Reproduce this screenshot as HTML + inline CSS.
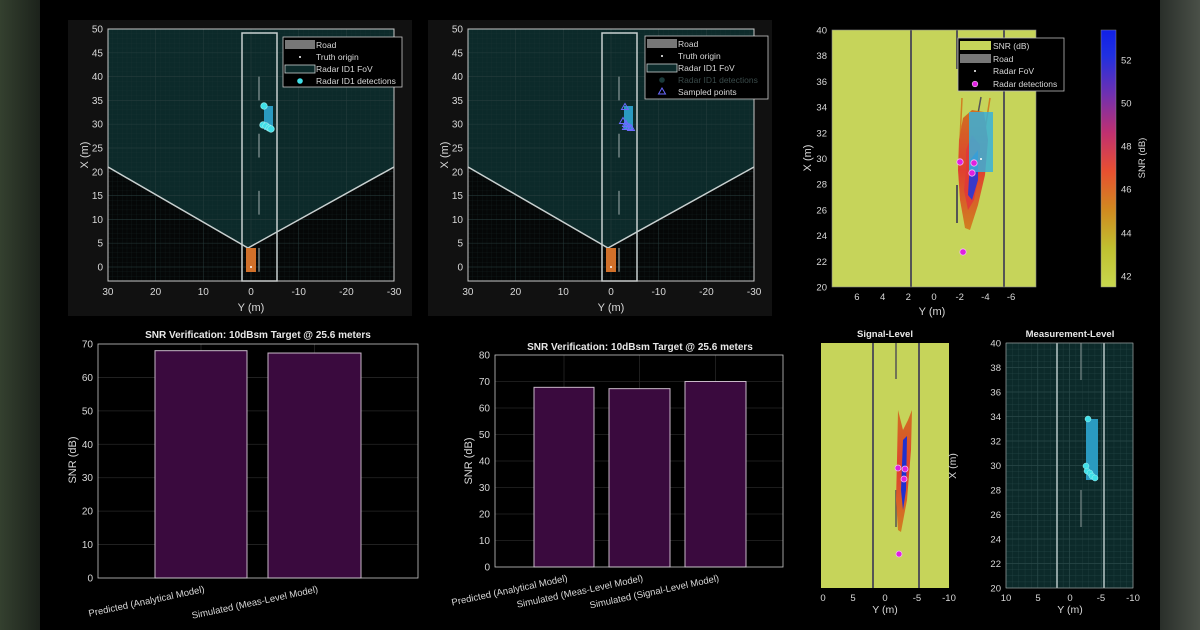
<!DOCTYPE html>
<html><head><meta charset="utf-8">
<style>
html,body{margin:0;padding:0;background:#000;}
svg{display:block;font-family:"Liberation Sans",sans-serif;}
</style></head><body>
<svg id="s" width="1200" height="630" viewBox="0 0 1200 630" xmlns="http://www.w3.org/2000/svg">
<defs>
<linearGradient id="lside" x1="0" x2="1"><stop offset="0" stop-color="#34402f"/><stop offset="1" stop-color="#1c221b"/></linearGradient>
<linearGradient id="rside" x1="0" x2="1"><stop offset="0" stop-color="#2a2f2a"/><stop offset="1" stop-color="#4a5048"/></linearGradient>
<linearGradient id="cbar" x1="0" y1="1" x2="0" y2="0">
<stop offset="0" stop-color="#c8d84e"/><stop offset="0.15" stop-color="#c0c030"/><stop offset="0.3" stop-color="#d08a20"/>
<stop offset="0.45" stop-color="#e85030"/><stop offset="0.6" stop-color="#c03070"/><stop offset="0.75" stop-color="#7030b0"/>
<stop offset="0.9" stop-color="#2030e0"/><stop offset="1" stop-color="#1020e8"/></linearGradient>
<linearGradient id="heat" x1="0" y1="1" x2="0" y2="0"><stop offset="0" stop-color="#d08020"/><stop offset="0.5" stop-color="#e04030"/><stop offset="1" stop-color="#d07020"/></linearGradient>
</defs>
<rect x="0" y="0" width="40" height="630" fill="url(#lside)"/>
<rect x="1160" y="0" width="40" height="630" fill="url(#rside)"/>
<g id="root"></g>
</svg>
<script>
var out=[];
function a(s){out.push(s);}
function txt(x,y,t,sz,anc,extra){a('<text x="'+x+'" y="'+y+'" font-size="'+(sz||10)+'" fill="#d8d8d8" text-anchor="'+(anc||'middle')+'" '+(extra||'')+'>'+t+'</text>');}
function topPanel(dx,legend2){
 a('<g transform="translate('+dx+',0)">');
 a('<rect x="68" y="20" width="344" height="296" fill="#111"/>');
 var L=108,R=394,T=29,B=281;
 a('<rect x="'+L+'" y="'+T+'" width="'+(R-L)+'" height="'+(B-T)+'" fill="#050707"/>');
 a('<polygon points="108,29 394,29 394,167 248,248 108,167" fill="#0c2a2a"/>');
 for(var Y=-30;Y<=30;Y+=1){var px=251-4.77*Y;a('<line x1="'+px+'" y1="'+T+'" x2="'+px+'" y2="'+B+'" stroke="#2a4040" stroke-width="'+(Y%10==0?0.7:0.3)+'" opacity="'+(Y%10==0?0.7:0.4)+'"/>');}
 for(var X=-3;X<=50;X+=1){var py=267-4.76*X;a('<line x1="'+L+'" y1="'+py+'" x2="'+R+'" y2="'+py+'" stroke="#2a4040" stroke-width="'+(X%5==0?0.7:0.3)+'" opacity="'+(X%5==0?0.7:0.4)+'"/>');}
 a('<polyline points="108,167 248,248 394,167" fill="none" stroke="#c8d0d0" stroke-width="1.5"/>');
 a('<rect x="242" y="33" width="35" height="248" fill="none" stroke="#c8d0d0" stroke-width="1.5"/>');
 [[40,35],[28,23],[16,11],[4,-1]].forEach(function(d){a('<line x1="259" y1="'+(267-4.76*d[0])+'" x2="259" y2="'+(267-4.76*d[1])+'" stroke="#8a9a9a" stroke-width="1.2"/>');});
 a('<rect x="246" y="248" width="10" height="24" fill="#d0702a"/><circle cx="251" cy="267" r="1" fill="#fff"/>');
 a('<rect x="264" y="106" width="9" height="24" fill="#2a9ac0"/>');
 if(!legend2){
  [[264,106],[263,125],[266,126],[269,128],[271,129]].forEach(function(p){a('<circle cx="'+p[0]+'" cy="'+p[1]+'" r="3.3" fill="#40e0e8" stroke="#a0f0f0" stroke-width="0.6"/>');});
 } else {
  [[265,107],[263,121],[266,124],[266,127],[269,127],[271,128]].forEach(function(p){a('<polygon points="'+p[0]+','+(p[1]-3.5)+' '+(p[0]-3.5)+','+(p[1]+2.5)+' '+(p[0]+3.5)+','+(p[1]+2.5)+'" fill="none" stroke="#6a6aff" stroke-width="1"/>');});
 }
 a('<rect x="'+L+'" y="'+T+'" width="'+(R-L)+'" height="'+(B-T)+'" fill="none" stroke="#c8c8c8" stroke-width="1"/>');
 for(var X=0;X<=50;X+=5){txt(L-5,267-4.76*X+3.5,X,10,'end');}
 [30,20,10,0,-10,-20,-30].forEach(function(Y){txt(251-4.77*Y,295,Y,10);});
 txt(251,311,'Y (m)',11);
 a('<text x="0" y="0" font-size="11" fill="#d8d8d8" text-anchor="middle" transform="translate(88,155) rotate(-90)">X (m)</text>');
 if(!legend2){
  a('<rect x="283" y="37" width="119" height="50" fill="#000" stroke="#c8c8c8" stroke-width="0.8"/>');
  a('<rect x="285" y="40" width="30" height="9" fill="#777"/>');txt(316,48,'Road',8.5,'start');
  a('<circle cx="300" cy="57" r="1" fill="#fff"/>');txt(316,60,'Truth origin',8.5,'start');
  a('<rect x="285" y="65" width="30" height="8" fill="#0c2a2a" stroke="#c8d0d0" stroke-width="0.8"/>');txt(316,72,'Radar ID1 FoV',8.5,'start');
  a('<circle cx="300" cy="81" r="2.8" fill="#40e0e8"/>');txt(316,84,'Radar ID1 detections',8.5,'start');
 } else {
  a('<rect x="285" y="36" width="123" height="63" fill="#000" stroke="#c8c8c8" stroke-width="0.8"/>');
  a('<rect x="287" y="39" width="30" height="9" fill="#777"/>');txt(318,47,'Road',8.5,'start');
  a('<circle cx="302" cy="56" r="1" fill="#fff"/>');txt(318,59,'Truth origin',8.5,'start');
  a('<rect x="287" y="64" width="30" height="8" fill="#0c2a2a" stroke="#c8d0d0" stroke-width="0.8"/>');txt(318,71,'Radar ID1 FoV',8.5,'start');
  a('<circle cx="302" cy="80" r="2.8" fill="#1a3a3a"/>');a('<text x="318" y="83" font-size="8.5" fill="#3a4a4a">Radar ID1 detections</text>');
  a('<polygon points="302,88 298.5,94 305.5,94" fill="none" stroke="#6a6aff"/>');txt(318,95,'Sampled points',8.5,'start');
 }
 a('</g>');
}
topPanel(0,false);
topPanel(360,true);

(function(){
 var L=832,R=1036,T=30,B=287;
 a('<rect x="'+L+'" y="'+T+'" width="'+(R-L)+'" height="'+(B-T)+'" fill="#c6d45a"/>');
 a('<line x1="911" y1="30" x2="911" y2="287" stroke="#555" stroke-width="2"/><line x1="1004" y1="30" x2="1004" y2="287" stroke="#555" stroke-width="2"/>');
 a('<line x1="957" y1="30" x2="957" y2="69" stroke="#555" stroke-width="2"/><line x1="957" y1="185" x2="957" y2="223" stroke="#555" stroke-width="2"/>');
 a('<line x1="962" y1="98" x2="960" y2="140" stroke="#d08020" stroke-width="1.5"/><line x1="981" y1="97" x2="975" y2="130" stroke="#555" stroke-width="1.5"/><line x1="990" y1="98" x2="985" y2="130" stroke="#d08020" stroke-width="1.5"/>');
 a('<polygon points="963,118 972,110 984,112 988,140 985,175 978,205 970,230 965,228 960,200 958,170 959,140" fill="url(#heat)"/>');
 a('<polygon points="966,150 972,135 980,145 980,170 974,200 968,210 964,190 966,170" fill="#e03838" opacity="0.9"/>');
 a('<polygon points="970,160 978,150 978,180 972,200 968,195" fill="#2838d8" opacity="0.9"/>');
 a('<rect x="969" y="112" width="24" height="60" fill="#3ab0d8" opacity="0.85"/>');
 a('<circle cx="981" cy="159" r="1" fill="#fff"/>');
 [[960,162],[974,163],[972,173],[963,252]].forEach(function(p){a('<circle cx="'+p[0]+'" cy="'+p[1]+'" r="3.2" fill="#e020e0" stroke="#f0c0f0" stroke-width="0.8"/>');});
 a('<rect x="'+L+'" y="'+T+'" width="'+(R-L)+'" height="'+(B-T)+'" fill="none" stroke="#888" stroke-width="0.6"/>');
 for(var X=20;X<=40;X+=2){var py=287-(X-20)*12.85;txt(827,py+3.5,X,9.5,'end');}
 [6,4,2,0,-2,-4,-6].forEach(function(Y){txt(934-12.85*Y,300,Y,9.5);});
 txt(932,315,'Y (m)',11);
 a('<text font-size="11" fill="#d8d8d8" text-anchor="middle" transform="translate(811,158) rotate(-90)">X (m)</text>');
 a('<rect x="958" y="38" width="106" height="53" fill="#000" stroke="#bbb" stroke-width="0.8"/>');
 a('<rect x="960" y="41" width="31" height="9" fill="#c6d45a"/>');txt(993,49,'SNR (dB)',8.5,'start');
 a('<rect x="960" y="54" width="31" height="9" fill="#777"/>');txt(993,62,'Road',8.5,'start');
 a('<circle cx="975" cy="71" r="1" fill="#fff"/>');txt(993,74,'Radar FoV',8.5,'start');
 a('<circle cx="975" cy="84" r="2.8" fill="#e020e0" stroke="#f0c0f0" stroke-width="0.6"/>');txt(993,87,'Radar detections',8.5,'start');
 a('<rect x="1101" y="30" width="15" height="257" fill="url(#cbar)" stroke="#888" stroke-width="0.5"/>');
 [[42,276],[44,233],[46,189],[48,146],[50,103],[52,60]].forEach(function(c){txt(1121,c[1]+3.5,c[0],9.5,'start');});
 a('<text font-size="9.5" fill="#d8d8d8" text-anchor="middle" transform="translate(1145,158) rotate(-90)">SNR (dB)</text>');
})();

function bars(L,R,T,B,max,step,bs,title,tx,ty,labels,lx,ly){
 var k=(B-T)/max;
 a('<rect x="'+L+'" y="'+T+'" width="'+(R-L)+'" height="'+(B-T)+'" fill="#000"/>');
 for(var v=step;v<max;v+=step){var y=B-v*k;a('<line x1="'+L+'" y1="'+y+'" x2="'+R+'" y2="'+y+'" stroke="#262626" stroke-width="0.8"/>');}
 bs.forEach(function(b){a('<line x1="'+(b[0]+b[1])/2+'" y1="'+T+'" x2="'+(b[0]+b[1])/2+'" y2="'+B+'" stroke="#262626" stroke-width="0.8"/>');});
 bs.forEach(function(b){a('<rect x="'+b[0]+'" y="'+(B-b[2]*k)+'" width="'+(b[1]-b[0])+'" height="'+(b[2]*k)+'" fill="#3a0a3e" stroke="#c8b8c8" stroke-width="1"/>');});
 a('<rect x="'+L+'" y="'+T+'" width="'+(R-L)+'" height="'+(B-T)+'" fill="none" stroke="#c8c8c8" stroke-width="0.8"/>');
 for(var v=0;v<=max;v+=step){txt(L-5,B-v*k+3.5,v,10,'end');}
 a('<text font-size="11" fill="#d8d8d8" text-anchor="middle" transform="translate('+lx+','+ly+') rotate(-90)">SNR (dB)</text>');
 a('<text x="'+tx+'" y="'+ty+'" font-size="10" font-weight="bold" fill="#e8e8e8" text-anchor="middle">'+title+'</text>');
 bs.forEach(function(b,i){var cx=(b[0]+b[1])/2;a('<text font-size="9.5" fill="#d8d8d8" text-anchor="end" transform="translate('+(cx+4)+','+(B+14)+') rotate(-12)">'+labels[i]+'</text>');});
}
bars(98,418,344,578,70,10,[[155,247,68],[268,361,67.3]],'SNR Verification: 10dBsm Target @ 25.6 meters',258,338,['Predicted (Analytical Model)','Simulated (Meas-Level Model)'],76,460);
bars(495,783,355,567,80,10,[[534,594,67.8],[609,670,67.3],[685,746,70]],'SNR Verification: 10dBsm Target @ 25.6 meters',640,350,['Predicted (Analytical Model)','Simulated (Meas-Level Model)','Simulated (Signal-Level Model)'],472,461);

(function(){
 a('<rect x="821" y="343" width="128" height="245" fill="#c6d45a"/>');
 a('<line x1="873" y1="343" x2="873" y2="588" stroke="#555" stroke-width="2"/><line x1="919" y1="343" x2="919" y2="588" stroke="#555" stroke-width="2"/>');
 a('<line x1="896" y1="343" x2="896" y2="379" stroke="#555" stroke-width="1.5"/><line x1="896" y1="490" x2="896" y2="527" stroke="#555" stroke-width="1.5"/>');
 a('<polygon points="898,410 903,430 908,420 912,410 911,450 907,500 901,532 898,530 896,500 897,460" fill="url(#heat)"/>');
 a('<polygon points="903,440 907,436 906,490 903,510 901,490" fill="#2030d0"/>');
 [[898,468],[905,469],[904,479],[899,554]].forEach(function(p){a('<circle cx="'+p[0]+'" cy="'+p[1]+'" r="3" fill="#e020e0" stroke="#f0c0f0" stroke-width="0.8"/>');});
 a('<text x="885" y="337" font-size="9.5" font-weight="bold" fill="#e8e8e8" text-anchor="middle">Signal-Level</text>');
 [0,5,0,-5,-10].forEach(function(v,i){txt([823,853,885,917,949][i],601,v,9.5);});
 txt(885,613,'Y (m)',10.5);
})();
(function(){
 var L=1006,R=1133,T=343,B=588;
 a('<rect x="'+L+'" y="'+T+'" width="'+(R-L)+'" height="'+(B-T)+'" fill="#0c2a2a"/>');
 for(var X=20;X<=40;X+=0.5){var y=B-(X-20)*12.25;a('<line x1="'+L+'" y1="'+y+'" x2="'+R+'" y2="'+y+'" stroke="#2a4a4a" stroke-width="'+(X%2==0?0.8:0.3)+'"/>');}
 for(var Y=-10;Y<=10;Y+=1){var x=1069.5-6.35*Y;a('<line x1="'+x+'" y1="'+T+'" x2="'+x+'" y2="'+B+'" stroke="#2a4a4a" stroke-width="'+(Y%5==0?0.8:0.3)+'"/>');}
 a('<line x1="1057" y1="343" x2="1057" y2="588" stroke="#b8c8c8" stroke-width="1.5"/><line x1="1104" y1="343" x2="1104" y2="588" stroke="#b8c8c8" stroke-width="1.5"/>');
 a('<line x1="1081" y1="343" x2="1081" y2="380" stroke="#7a8a8a" stroke-width="1.2"/><line x1="1081" y1="490" x2="1081" y2="527" stroke="#7a8a8a" stroke-width="1.2"/>');
 a('<rect x="1086" y="419" width="12" height="61" fill="#2a9ac0"/>');
 [[1088,419],[1086,466],[1087,471],[1090,473],[1092,476],[1095,478]].forEach(function(p){a('<circle cx="'+p[0]+'" cy="'+p[1]+'" r="3" fill="#40e0e8" stroke="#a0f0f0" stroke-width="0.5"/>');});
 a('<rect x="'+L+'" y="'+T+'" width="'+(R-L)+'" height="'+(B-T)+'" fill="none" stroke="#aaa" stroke-width="0.6"/>');
 for(var X=20;X<=40;X+=2){txt(1001,B-(X-20)*12.25+3.5,X,9.5,'end');}
 [10,5,0,-5,-10].forEach(function(v,i){txt([1006,1038,1070,1101,1133][i],601,v,9.5);});
 txt(1070,613,'Y (m)',10.5);
 a('<text font-size="10.5" fill="#d8d8d8" text-anchor="middle" transform="translate(956,466) rotate(-90)">X (m)</text>');
 a('<text x="1070" y="337" font-size="9.5" font-weight="bold" fill="#e8e8e8" text-anchor="middle">Measurement-Level</text>');
})();
document.getElementById('root').innerHTML=out.join('');
</script>
</body></html>
